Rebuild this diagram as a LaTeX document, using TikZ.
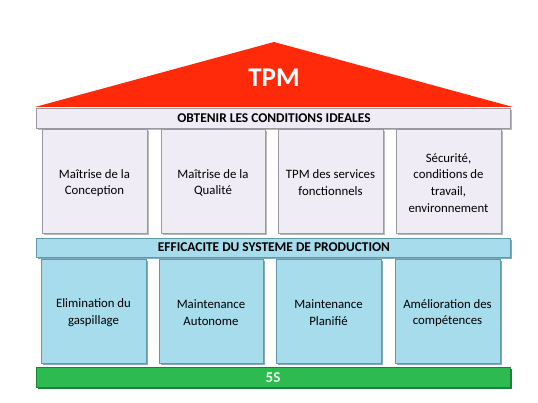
\documentclass[tikz,border=0pt]{standalone}
\usepackage{fontspec}
\setmainfont{Carlito}
\definecolor{roofred}{HTML}{FF2A0A}
\definecolor{lav}{HTML}{EFECF5}
\definecolor{lavedge}{HTML}{9A98A0}
\definecolor{sky}{HTML}{A6DCEC}
\definecolor{skyedge}{HTML}{5F99AA}
\definecolor{grn}{HTML}{2DBA50}
\definecolor{grnedge}{HTML}{1C8236}
\begin{document}
\begin{tikzpicture}[x=1pt,y=-1pt,
  lbl/.style={align=center,font=\fontsize{12.8}{16.8}\selectfont,text=black},
  barlbl/.style={font=\fontsize{13.4}{15}\bfseries\selectfont,text=black}]
\useasboundingbox (0,0) rectangle (538,403);
% roof
\fill[roofred] (35,107) -- (274,42) -- (513,107) -- cycle;
\node[font=\fontsize{27}{30}\bfseries\selectfont,text=white] (tpm) at (274,78) {TPM};
% bar 1
\fill[gray!55] (38,110) rectangle (512,130);
\filldraw[fill=lav,draw=lavedge,line width=0.5pt] (36,108) rectangle (510,128);
\node[barlbl] (b1) at (274,118) {OBTENIR LES CONDITIONS IDEALES};
% top pillars
\foreach \xa/\xb/\n/\t in {42/147/p1/{Maîtrise de la\\Conception},161/265/p2/{Maîtrise de la\\Qualité},278/383/p3/{TPM des services\\fonctionnels},396/501/p4/{Sécurité,\\conditions de\\travail,\\environnement}}{
  \fill[gray!55] (\xa+2,131) rectangle (\xb+2,235);
  \filldraw[fill=lav,draw=lavedge,line width=0.5pt] (\xa,129) rectangle (\xb,233);
  \node[lbl] (\n) at ({(\xa+\xb)/2},183) {\t};
}
% bar 2
\fill[skyedge!80] (38,240) rectangle (512,259);
\filldraw[fill=sky,draw=skyedge,line width=0.5pt] (36,238) rectangle (510,257);
\node[barlbl] (b2) at (274,247.5) {EFFICACITE DU SYSTEME DE PRODUCTION};
% bottom pillars
\foreach \xa/\xb/\n/\t in {41/146/q1/{Elimination du\\gaspillage},159/263/q2/{Maintenance\\Autonome},276/381/q3/{Maintenance\\Planifié},395/500/q4/{Amélioration des\\compétences}}{
  \fill[skyedge!80] (\xa+2,261) rectangle (\xb+2,365);
  \filldraw[fill=sky,draw=skyedge,line width=0.5pt] (\xa,259) rectangle (\xb,363);
  \node[lbl] (\n) at ({(\xa+\xb)/2},313) {\t};
}
% green bar
\fill[grnedge] (38,369) rectangle (512,389);
\filldraw[fill=grn,draw=grnedge,line width=0.5pt] (36,367) rectangle (510,387);
\node[font=\fontsize{15}{17}\bfseries\selectfont,text=white!92!green] (s5) at (273,377.5) {5S};
\end{tikzpicture}
\end{document}
